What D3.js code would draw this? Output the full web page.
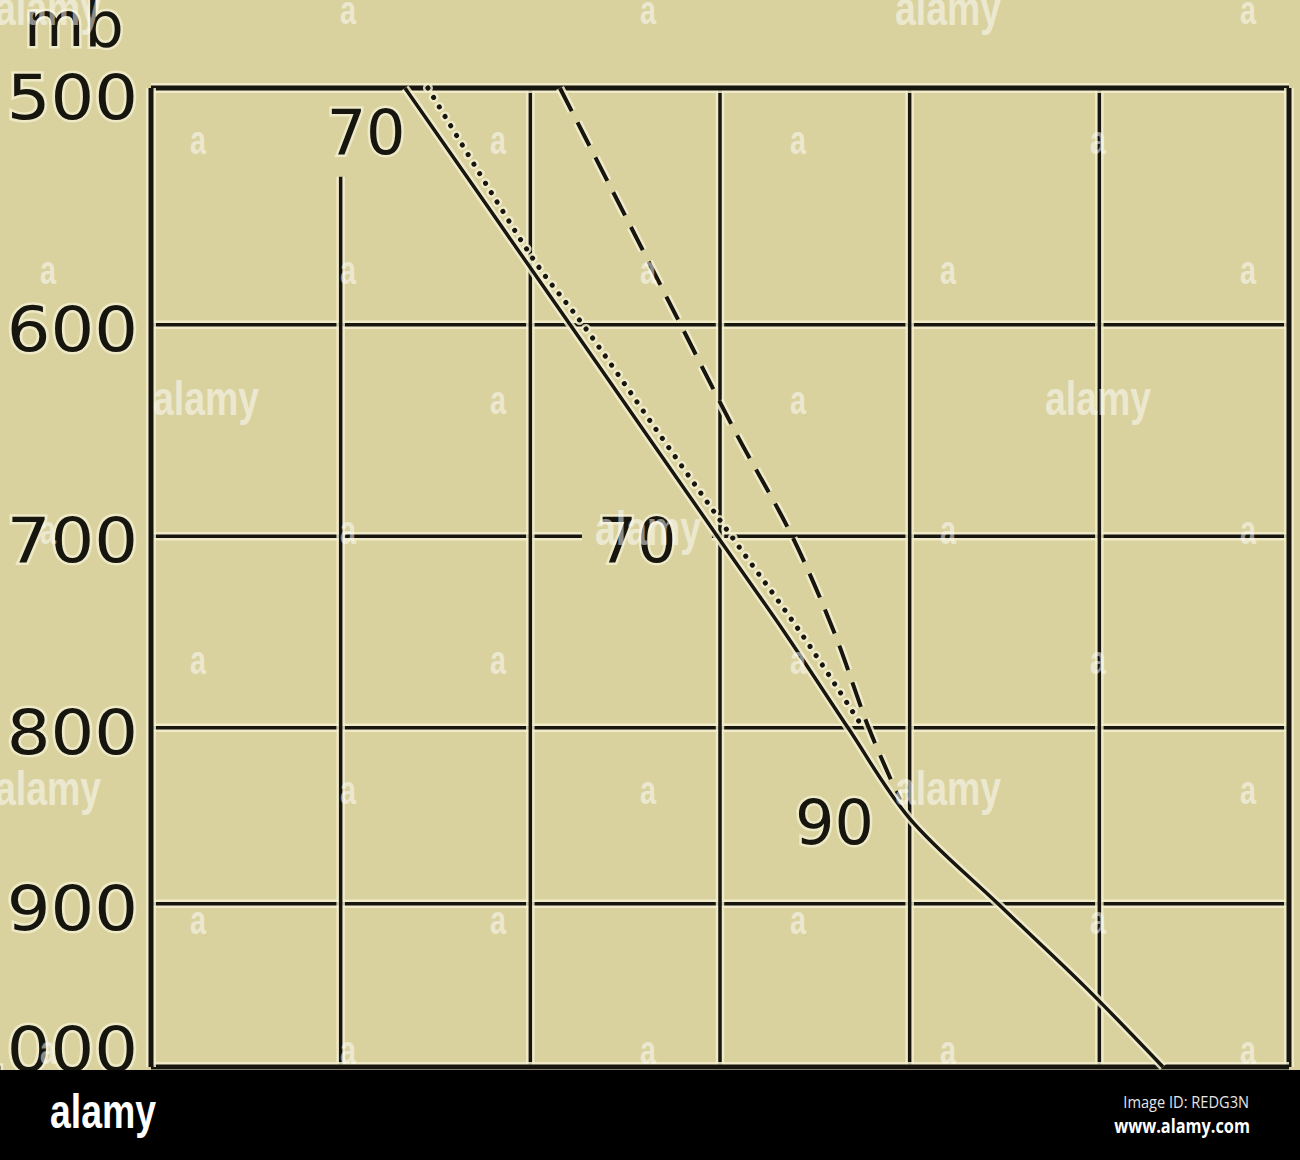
<!DOCTYPE html>
<html><head><meta charset="utf-8">
<script src="https://cdn.jsdelivr.net/npm/d3@7"></script>
<style>
html,body{margin:0;padding:0;background:#d9d29f;}
svg{display:block;}
</style></head>
<body><svg id="chart" width="1300" height="1160"></svg>
<script>
// ---- data ----
const pressureTicks = [500, 600, 700, 800, 900, 1000];      // mb
const tempGrid = [-30, -20, -10, 0, 10];                    // isotherms (°C)
const tempDomain = [-40, 20];
const pressureDomain = [500, 1000];

// solid curve
const solidT = [-26.61, -22.12, -17.90, -13.92, -10.14, -6.53, -3.25, -0.04, 4.66, 9.25, 13.36];
const solidP = [500, 550, 600, 650, 700, 750, 800, 850, 900, 950, 1000];
// dotted curve
const dottedT = [-25.40, -21.49, -19.51, -17.22, -13.23, -9.40, -5.69, -2.46];
const dottedP = [500, 550, 575, 600, 650, 700, 750, 800];
// dashed curve
const dashedT = [-18.44, -15.15, -12.07, -9.15, -6.20, -3.94, -2.16, -0.51];
const dashedP = [500, 550, 600, 650, 700, 750, 800, 840];

// annotations
const noteText = ["70", "70", "90"];
const noteT = [-28.66, -14.38, -3.96];
const noteP = [518, 702, 853];

// ---- drawing ----
const svg = d3.select("#chart");
const W = 1300, H = 1160;
const plot = {left: 151, right: 1289, top: 88, bottom: 1067};
const ink = "#16150e", halo = "#f3efcf", bg = "#d9d29f";

svg.append("rect").attr("width", W).attr("height", H).attr("fill", bg);

const x = d3.scaleLinear().domain(tempDomain).range([plot.left, plot.right]);
const y = d3.scalePow().exponent(0.32).domain(pressureDomain).range([plot.top, plot.bottom]);

const g = svg.append("g");

function seg(x1, y1, x2, y2, w) {
  g.append("line").attr("x1", x1).attr("y1", y1).attr("x2", x2).attr("y2", y2)
    .attr("stroke", halo).attr("stroke-width", w + 5).attr("stroke-opacity", 0.85);
  g.append("line").attr("x1", x1).attr("y1", y1).attr("x2", x2).attr("y2", y2)
    .attr("stroke", ink).attr("stroke-width", w);
}

const notes = noteText.map((t, i) => ({text: t, cx: x(noteT[i]), cy: y(noteP[i])}));

// horizontal grid (isobars)
pressureTicks.forEach(p => {
  const yy = y(p);
  if (p === 700) {
    const n = notes[1];
    seg(plot.left, yy, n.cx - 55, yy, 3.5);
    seg(n.cx + 75, yy, plot.right, yy, 3.5);
  } else if (p !== pressureDomain[0] && p !== pressureDomain[1]) {
    seg(plot.left, yy, plot.right, yy, 3.5);
  }
});
// vertical grid (isotherms)
tempGrid.forEach(t => {
  const xx = x(t);
  const top = t === -30 ? notes[0].cy + 44 : plot.top;
  seg(xx, top, xx, plot.bottom, 3.5);
});
// frame
[[plot.left, plot.top, plot.right, plot.top], [plot.right, plot.top, plot.right, plot.bottom],
 [plot.right, plot.bottom, plot.left, plot.bottom], [plot.left, plot.bottom, plot.left, plot.top]]
  .forEach(s => seg(s[0], s[1], s[2], s[3], 5));

// curves
const line = d3.line().x(d => x(d[0])).y(d => y(d[1])).curve(d3.curveCatmullRom.alpha(0.5));
function curve(T, P, dash, w, cap) {
  const pts = T.map((t, i) => [t, P[i]]);
  const h = g.append("path").attr("d", line(pts)).attr("fill", "none")
    .attr("stroke", halo).attr("stroke-opacity", 0.85).attr("stroke-width", w + 5)
    .attr("stroke-linecap", cap);
  if (dash) h.attr("stroke-dasharray", dash);
  const p = g.append("path").attr("d", line(pts)).attr("fill", "none")
    .attr("stroke", ink).attr("stroke-width", w).attr("stroke-linecap", cap);
  if (dash) p.attr("stroke-dasharray", dash);
}
curve(dottedT, dottedP, "0.1,11", 5, "round");
curve(dashedT, dashedP, "26,13", 4, "butt");
curve(solidT, solidP, null, 3.5, "butt");

// text
const font = "'DejaVu Sans', sans-serif";
function label(txt, xx, yy, anchor, sx) {
  svg.append("text").attr("transform", `translate(${xx},${yy}) scale(${sx},1)`)
    .attr("text-anchor", anchor)
    .attr("font-family", font).attr("font-size", 62).attr("fill", ink)
    .attr("stroke", halo).attr("stroke-width", 5).attr("stroke-opacity", 0.8)
    .attr("paint-order", "stroke").attr("dominant-baseline", "central")
    .text(txt);
}
pressureTicks.forEach((p, i) => {
  const off = i === 0 ? 9 : (i === pressureTicks.length - 1 ? -18 : 4);
  label(String(p), 138, y(p) + off, "end", 1.11);
});
svg.append("text").attr("x", 24).attr("y", 46).attr("font-family", font)
  .attr("font-size", 62).attr("fill", ink).attr("stroke", halo).attr("stroke-width", 5)
  .attr("stroke-opacity", 0.8).attr("paint-order", "stroke").text("mb");
notes.forEach(n => label(n.text, n.cx, n.cy, "middle", 1));

// watermark overlay
const wmFont = "'Liberation Sans', Arial, sans-serif";
const wm = svg.append("g").attr("fill", "#ffffff").attr("fill-opacity", 0.5)
  .attr("font-family", wmFont).attr("font-weight", "bold");
for (let r = 0; r < 9; r++) {
  const cy = 13 + r * 130;
  const cols = r % 2 === 0 ? [48, 348, 648, 948, 1248] : [198, 498, 798, 1098];
  cols.forEach((cx, ci) => {
    const isLogo = (r === 0 && (ci === 0 || ci === 3)) || (r === 3 && (ci === 0 || ci === 3)) ||
                   (r === 4 && ci === 2) || (r === 6 && (ci === 0 || ci === 3));
    if (isLogo) {
      const lx = cx + (r === 3 && ci === 0 ? 8 : 0);
      wm.append("text").attr("transform", `translate(${lx},${cy + 12}) scale(0.78,1)`)
        .attr("text-anchor", "middle").attr("font-size", 48).text("alamy");
    } else {
      wm.append("text").attr("transform", `translate(${cx},${cy + 11}) scale(0.72,1)`)
        .attr("text-anchor", "middle").attr("font-size", 40).text("a");
    }
  });
}

// bottom band
svg.append("rect").attr("x", 0).attr("y", 1070).attr("width", W).attr("height", H - 1070).attr("fill", "#000");
svg.append("text").attr("transform", "translate(50,1128) scale(0.78,1)").attr("font-family", wmFont)
  .attr("font-weight", "bold").attr("font-size", 48).attr("fill", "#fff").text("alamy");
svg.append("text").attr("transform", "translate(1249,1108) scale(0.86,1)").attr("text-anchor", "end")
  .attr("font-family", "'Open Sans', sans-serif").attr("font-size", 17).attr("fill", "#e6e6e6").text("Image ID: REDG3N");
svg.append("text").attr("transform", "translate(1250,1133) scale(0.86,1)").attr("text-anchor", "end")
  .attr("font-family", "'Open Sans', sans-serif").attr("font-weight", "bold").attr("font-size", 19)
  .attr("fill", "#fff").text("www.alamy.com");
</script>
</body></html>
